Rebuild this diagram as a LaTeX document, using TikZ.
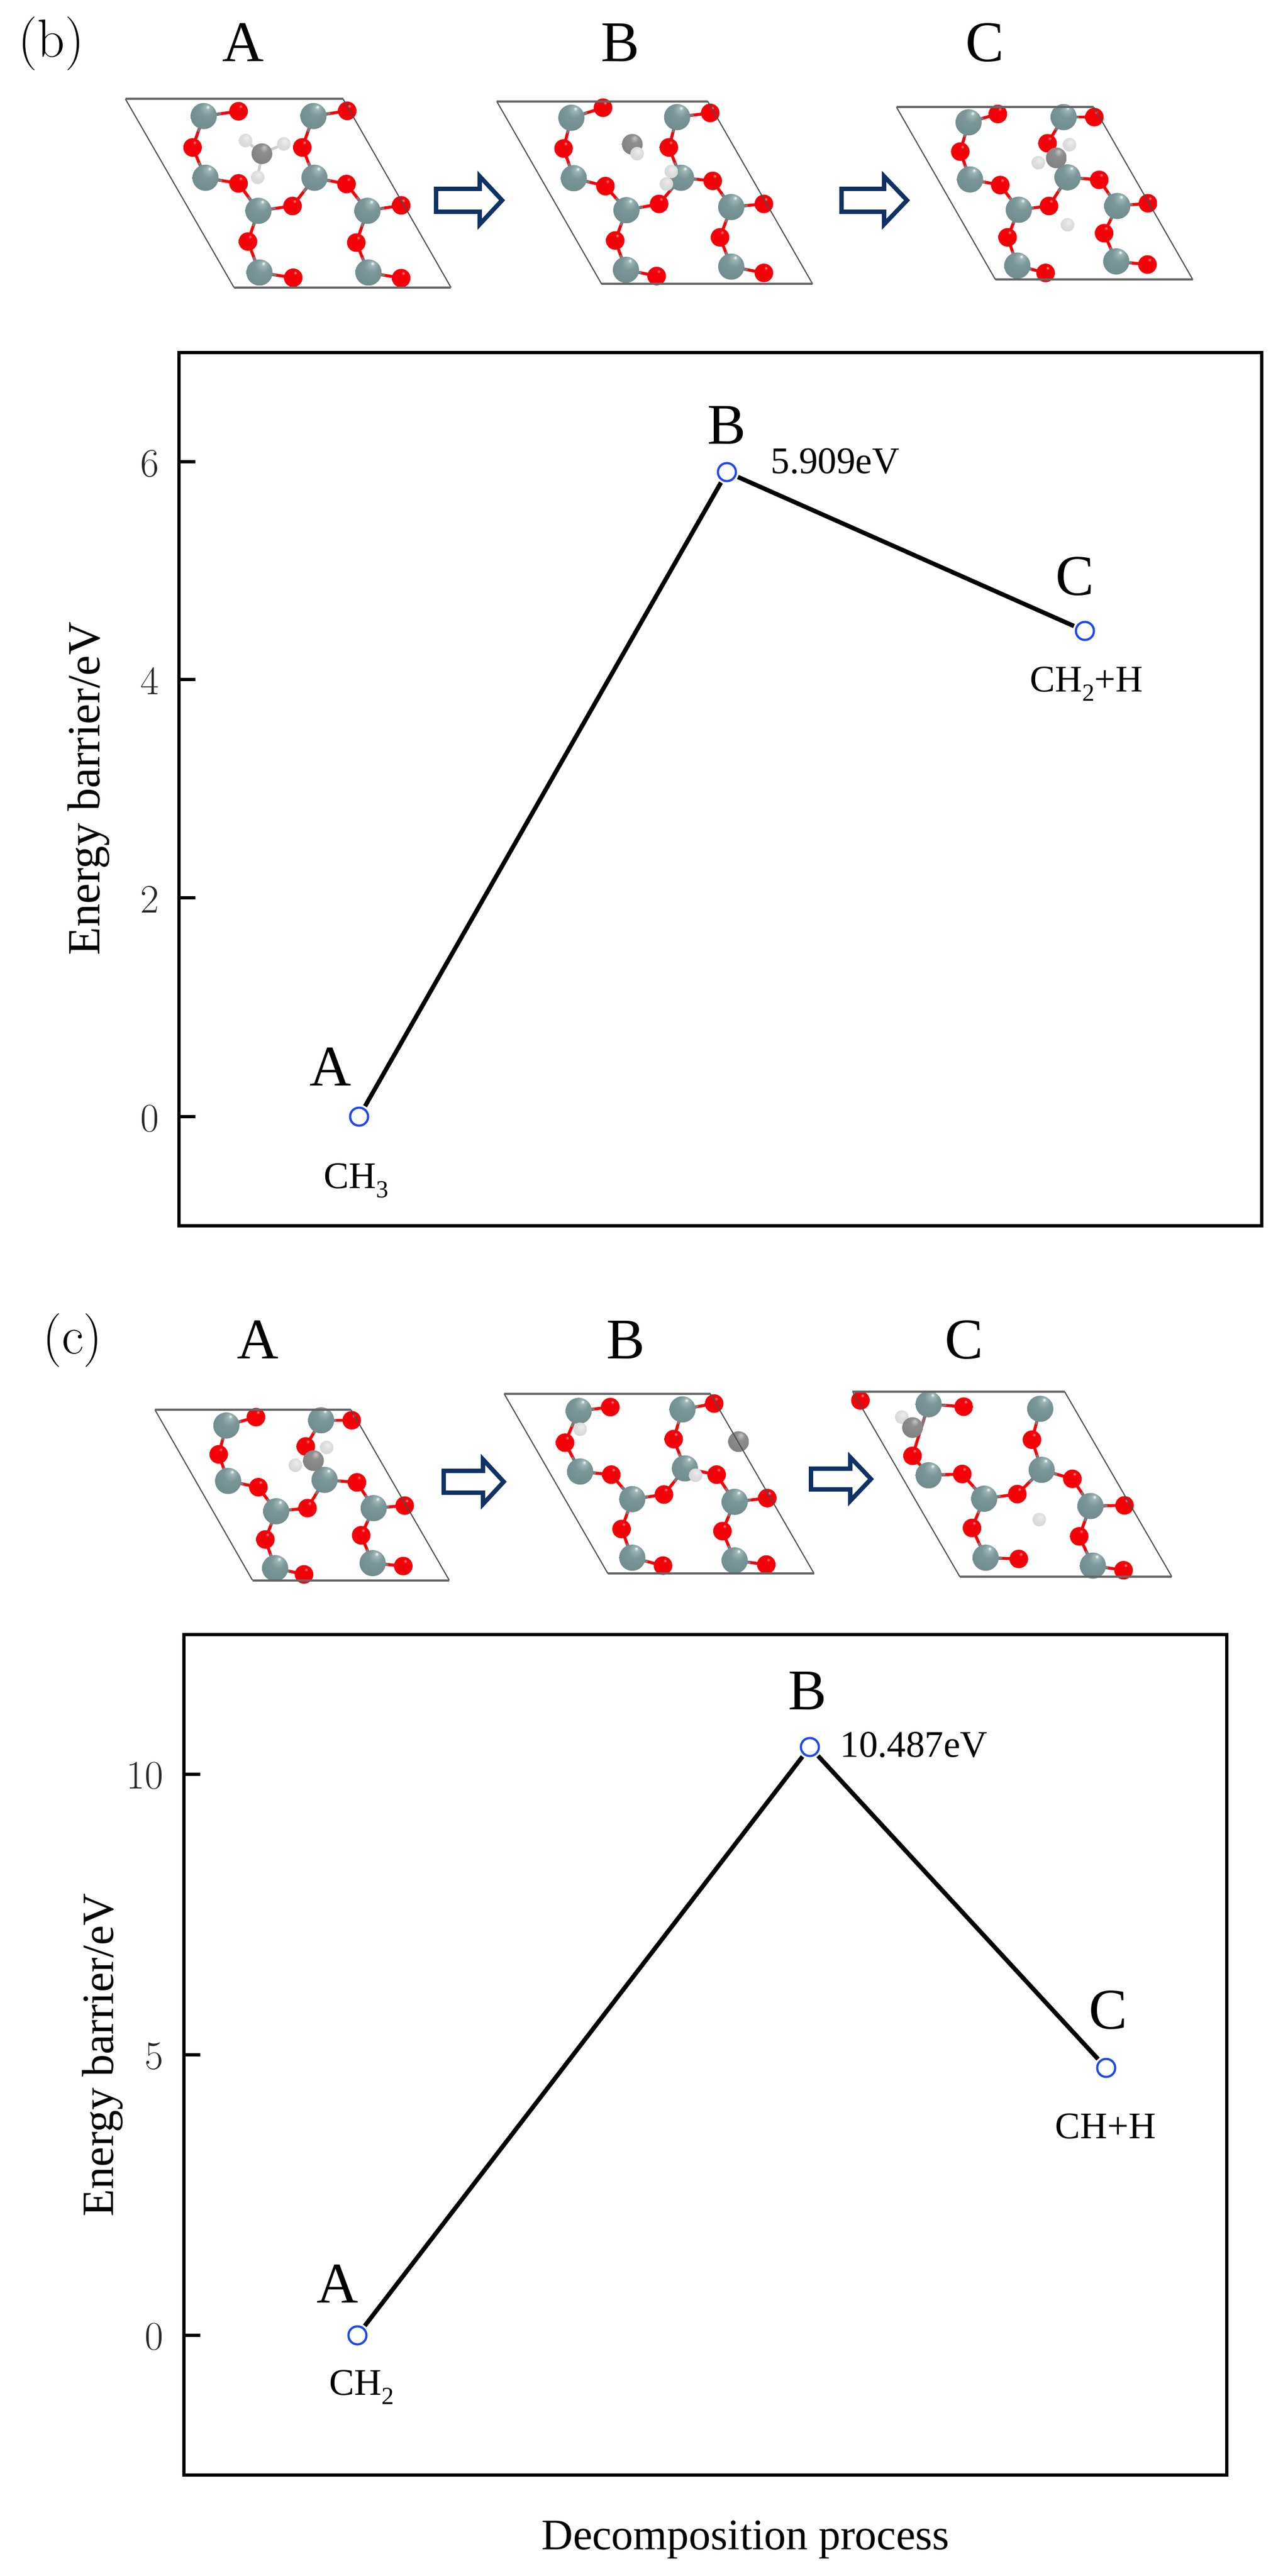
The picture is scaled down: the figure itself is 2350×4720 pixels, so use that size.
\documentclass[tikz,border=0pt]{standalone}
\usepackage{fontspec}
\usetikzlibrary{calc}
\newfontfamily\tms{Liberation Serif}
\newcommand\chemsub[1]{\raisebox{-0.26em}{\fontsize{12.8}{14}\selectfont #1}}
\definecolor{tic}{HTML}{7A9698}
\definecolor{tilight}{HTML}{9DB5B6}
\definecolor{tidark}{HTML}{668385}
\definecolor{oxc}{HTML}{F40008}
\definecolor{oxdark}{HTML}{DC0010}
\definecolor{cgrey}{HTML}{8E8E8E}
\definecolor{cdark}{HTML}{757575}
\definecolor{hgrey}{HTML}{DEDEDE}
\definecolor{hdark}{HTML}{CECECE}
\definecolor{navy}{HTML}{0F3163}
\definecolor{markerblue}{HTML}{1E46F5}
\pgfdeclareradialshading{tiball}{\pgfpoint{8bp}{18bp}}{color(0bp)=(white); color(4bp)=(tilight); color(14bp)=(tic); color(50bp)=(tidark)}
\pgfdeclareradialshading{oxball}{\pgfpoint{6bp}{14bp}}{color(0bp)=(white!60!oxc); color(5bp)=(oxc); color(35bp)=(oxc); color(50bp)=(oxdark)}
\pgfdeclareradialshading{cball}{\pgfpoint{6bp}{16bp}}{color(0bp)=(white!50!cgrey); color(10bp)=(cgrey); color(50bp)=(cdark)}
\pgfdeclareradialshading{hball}{\pgfpoint{4bp}{10bp}}{color(0bp)=(white!50!hgrey); color(15bp)=(hgrey); color(50bp)=(hdark)}
\tikzset{
  zoomL/.style={x=0.006378cm,y=-0.003827cm},
  zoomR/.style={x=0.00893cm,y=-0.003827cm},
  bondox/.style={draw=oxc,line width=0.055cm},
  bondti/.style={draw=tidark,line width=0.04cm},
  cellside/.style={draw=black!70,line width=0.02cm},
  celledge/.style={draw=black!60,line width=0.04cm},
  flowarrow/.style={draw=navy,line width=0.08cm,fill=white,miter limit=10},
  axesbox/.style={draw=black,line width=0.055cm},
  ticklen/.style={draw=black,line width=0.055cm},
  curve/.style={draw=black,line width=0.08cm},
  marker/.style={circle,draw=markerblue,line width=0.04cm,fill=white,minimum size=0.33cm,inner sep=0pt,outer sep=0.055cm},
  bigletter/.style={inner sep=0pt,font=\tms\fontsize{30}{36}\selectfont},
  panellabel/.style={inner sep=0pt,font=\fontsize{28}{33}\selectfont},
  smalltext/.style={inner sep=0pt,anchor=base west,font=\tms\fontsize{19.6}{24}\selectfont},
  ticktext/.style={inner sep=0pt,anchor=base east,text=black!85,font=\fontsize{21}{25}\selectfont},
  axistext/.style={inner sep=0pt,anchor=base,font=\tms\fontsize{24}{29}\selectfont},
}
% #1: twenty atom positions, #2: list with the bond 10/11 or a dummy
\newcommand\framework[2]{%
  \foreach \px/\py [count=\i] in {#1} {\coordinate (a\i) at (\px,\py);}
  \foreach \g/\o in {1/2,1/3,4/3,4/5,6/5,6/7,8/7,8/9,10/9,8/12,13/12,13/14,6/15,16/15,16/17,13/18,19/18,19/20,#2} {
    \draw[bondox] (a\g) -- (a\o);
    \draw[bondti] (a\g) -- ($(a\g)!0.5!(a\o)$);
  }
  \foreach \i in {2,3,5,7,9,11,12,14,15,17,18,20} {\shade[shading=oxball] (a\i) circle[radius=0.17cm];}
  \foreach \i in {1,4,6,8,10,13,16,19} {\shade[shading=tiball] (a\i) circle[radius=0.24cm];}
}
\newcommand\carbon[1]{\shade[shading=cball] (#1) circle[radius=0.19cm];}
\newcommand\hydrogen[1]{\shade[shading=hball] (#1) circle[radius=0.125cm];}
\newcommand\cellframe[4]{%
  \draw[cellside] (#1) -- (#4) (#2) -- (#3);
  \draw[celledge] (#1) -- (#2) (#3) -- (#4);
}
\newcommand\blockarrow[6]{%
  \draw[flowarrow] ({#1},{#4-#5}) -- ({#2},{#4-#5}) -- ({#2},{#4-#6}) -- ({#3},{#4}) -- ({#2},{#4+#6}) -- ({#2},{#4+#5}) -- ({#1},{#4+#5}) -- cycle;
}
\begin{document}
\begin{tikzpicture}[x=0.01cm,y=-0.01cm]
\useasboundingbox[fill=white] (0,0) rectangle (2350,4720);

% ---------- panel (b) cells ----------
\begin{scope}[zoomL]
  \framework{585/555,685/532,553/705,590/850,685/877,742/1008,840/985,903/850,868/705,900/555,997/530,995/880,1055/1008,1152/982,712/1155,745/1303,842/1328,1023/1160,1058/1303,1152/1330}{10/11}
  \draw[draw=hdark,line width=0.05cm] (752,735) -- (705,672) (752,735) -- (815,688) (752,735) -- (740,848);
  \hydrogen{705,672}\hydrogen{815,688}\hydrogen{740,848}\carbon{752,735}
  \cellframe{360,473}{985,473}{1295,1375}{672,1375}
\end{scope}
\begin{scope}[zoomR,shift={(8.5cm,0cm)}]
  \framework{220/563,285/515,204/710,225/852,290/890,333/1005,400/975,445/850,420/705,437/560,505/540,510/865,548/990,615/975,310/1150,332/1290,395/1320,525/1135,548/1275,615/1305}{10/11}
  \carbon{345,690}\hydrogen{355,735}\hydrogen{425,820}\hydrogen{415,880}
  \cellframe{67,485}{500,485}{715,1358}{282,1358}
\end{scope}
\begin{scope}[zoomR,shift={(8.5cm,0cm)}]
  \framework{1035/585,1095/545,1018/725,1038/858,1100/885,1138/1003,1200/985,1238/848,1197/685,1230/560,1293/560,1303/860,1340/985,1403/972,1115/1135,1135/1270,1193/1305,1313/1115,1338/1250,1402/1265}{10/11}
  \hydrogen{1242,692}\hydrogen{1178,778}\carbon{1215,755}\hydrogen{1238,1075}
  \cellframe{887,512}{1292,512}{1495,1337}{1090,1337}
\end{scope}
\blockarrow{799}{879}{920}{367}{21}{44}
\blockarrow{1542}{1620}{1662}{367}{21}{44}

% ---------- panel (c) cells ----------
\begin{scope}[zoomL,shift={(0cm,-23.5cm)}]
  \framework{650/680,735/640,628/818,655/945,742/975,793/1090,883/1075,932/940,878/780,922/655,1010/655,1025/952,1073/1075,1162/1063,762/1225,790/1362,873/1392,1037/1205,1070/1338,1158/1352}{10/11}
  \hydrogen{938,785}\hydrogen{848,870}\carbon{900,848}
  \cellframe{445,605}{1008,605}{1290,1420}{725,1420}
\end{scope}
\begin{scope}[zoomR,shift={(8.5cm,-23.5cm)}]
  \framework{235/610,300/592,207/762,238/900,302/915,345/1032,410/1010,453/885,430/745,448/603,513/575,518/915,555/1045,622/1027,323/1175,345/1312,408/1350,530/1185,555/1325,620/1345}{10/11}
  \carbon{563,757}\hydrogen{238,698}\hydrogen{475,918}
  \cellframe{82,528}{505,528}{718,1388}{295,1388}
\end{scope}
\begin{scope}[zoomR,shift={(8.5cm,-23.5cm)}]
  \framework{953/578,1025/590,920/825,953/918,1022/912,1067/1030,1135/1008,1185/892,1165/748,1182/600,813/560,1248/935,1285/1065,1355/1062,1042/1170,1070/1312,1138/1318,1262/1210,1290/1350,1353/1372}{1/1}
  \hydrogen{898,640}\carbon{920,690}\hydrogen{1180,1130}
  \cellframe{797,518}{1232,518}{1452,1403}{1017,1403}
\end{scope}
\blockarrow{813}{885}{923}{2715}{20}{41}
\blockarrow{1486}{1558}{1596}{2710}{19}{40}

% ---------- panel titles ----------
\node[panellabel] (labelb) at (94,80) {(b)};
\node[bigletter] (topbA) at (446,78) {A};
\node[bigletter] (topbB) at (1137,78) {B};
\node[bigletter] (topbC) at (1805,78) {C};
\node[panellabel] (labelc) at (133,2456) {(c)};
\node[bigletter] (topcA) at (473,2455) {A};
\node[bigletter] (topcB) at (1147,2455) {B};
\node[bigletter] (topcC) at (1767,2455) {C};

% ---------- chart (b) ----------
\draw[axesbox] (328,646) rectangle (2312,2246);
\foreach \v/\yy in {0/2046,2/1645,4/1245,6/846} {
  \draw[ticklen] (328,\yy) -- (358,\yy);
  \node[ticktext] (tickb\v) at (292,\yy+27) {\v};
}
\node[axistext,rotate=90] (ylabelb) at (182,1445) {Energy barrier/eV};
\node[marker] (bA) at (658,2046) {};
\node[marker] (bB) at (1332,865) {};
\node[marker] (bC) at (1988,1156) {};
\draw[curve] (bA) -- (bB) -- (bC);
\node[bigletter] (bAl) at (606,1955) {A};
\node[bigletter] (bBl) at (1332,779) {B};
\node[bigletter] (bCl) at (1970,1056) {C};
\node[smalltext] (bval) at (1412,867) {5.909eV};
\node[smalltext] (bCH) at (593,2177) {CH\chemsub{3}};
\node[smalltext] (bCHH) at (1887,1267) {CH\chemsub{2}+H};

% ---------- chart (c) ----------
\draw[axesbox] (337,2995) rectangle (2248,4535);
\foreach \v/\yy in {0/4279,5/3765,10/3251} {
  \draw[ticklen] (337,\yy) -- (367,\yy);
  \node[ticktext] (tickc\v) at (300,\yy+26) {\v};
}
\node[axistext,rotate=90,font=\tms\fontsize{23.3}{28}\selectfont] (ylabelc) at (207,3765) {Energy barrier/eV};
\node[marker] (cA) at (655,4279) {};
\node[marker] (cB) at (1484,3201) {};
\node[marker] (cC) at (2027,3789) {};
\draw[curve] (cA) -- (cB) -- (cC);
\node[bigletter] (cAl) at (619,4185) {A};
\node[bigletter] (cBl) at (1480,3098) {B};
\node[bigletter] (cCl) at (2031,3683) {C};
\node[smalltext] (cval) at (1539,3219) {10.487eV};
\node[smalltext] (cCH) at (603,4388) {CH\chemsub{2}};
\node[smalltext] (cCHH) at (1933,3918) {CH+H};
\node[axistext,font=\tms\fontsize{22.7}{27}\selectfont] (xlabel) at (1366,4671) {Decomposition process};
\end{tikzpicture}
\end{document}
